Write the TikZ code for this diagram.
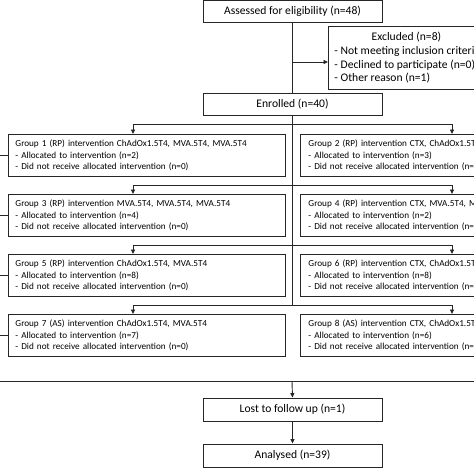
\documentclass[tikz,border=0pt]{standalone}
\usepackage{fontspec}
\setmainfont{Carlito}
\usetikzlibrary{arrows.meta}
\hbadness=10000 \hfuzz=200pt
\begin{document}
\begin{tikzpicture}[x=1pt,y=-1pt,
  line/.style={draw=black!85,line width=0.9pt},
  arr/.style={line,-{Triangle[length=4.5pt,width=4pt]}},
  bigfont/.style={font=\fontsize{11.6}{13.7}\selectfont},
  smallfont/.style={font=\fontsize{9.2}{11.3}\selectfont},
  cbox/.style={draw=black!85,line width=0.9pt,minimum width=179pt,minimum height=22pt,inner sep=0pt,bigfont},
  gbox/.style={draw=black!85,line width=0.9pt,anchor=north west,minimum height=42pt,text width=263pt,inner xsep=7pt,inner ysep=2pt,align=left,smallfont},
  rbox/.style={gbox,inner xsep=8pt,text width=261pt},
]
\useasboundingbox (0,0) rectangle (474,474);
\clip (0,0) rectangle (474,474);

% central boxes
\node[cbox] (assess) at (292.5,11.25) {Assessed for eligibility (n=48)};
\node[cbox] (enrol) at (292.5,104.5) {Enrolled (n=40)};
\node[cbox,minimum height=23pt] (lost) at (292.5,409.5) {Lost to follow up (n=1)};
\node[cbox,minimum height=23pt] (anal) at (292.5,455.5) {Analysed (n=39)};

% excluded
\node[draw=black!85,line width=0.9pt,anchor=north west,minimum height=63pt,inner xsep=6pt,inner ysep=2pt,align=left,bigfont] (exc) at (328,26)
  {\makebox[144pt]{Excluded (n=8)}\\- Not meeting inclusion criteria (n=7)\\- Declined to participate (n=0)\\- Other reason (n=1)};

% group boxes
\node[gbox] (g1) at (8,134) {\mbox{Group 1 (RP) intervention ChAdOx1.5T4, MVA.5T4, MVA.5T4}\\- Allocated to intervention (n=2)\\- Did not receive allocated intervention (n=0)};
\node[rbox] (g2) at (300,134) {\mbox{Group 2 (RP) intervention CTX, ChAdOx1.5T4, MVA.5T4}\\- Allocated to intervention (n=3)\\- Did not receive allocated intervention (n=0)};
\node[gbox] (g3) at (8,194) {\mbox{Group 3 (RP) intervention MVA.5T4, MVA.5T4, MVA.5T4}\\- Allocated to intervention (n=4)\\- Did not receive allocated intervention (n=0)};
\node[rbox] (g4) at (300,194) {\mbox{Group 4 (RP) intervention CTX, MVA.5T4, MVA.5T4}\\- Allocated to intervention (n=2)\\- Did not receive allocated intervention (n=0)};
\node[gbox] (g5) at (8,254) {\mbox{Group 5 (RP) intervention ChAdOx1.5T4, MVA.5T4}\\- Allocated to intervention (n=8)\\- Did not receive allocated intervention (n=0)};
\node[rbox] (g6) at (300,254) {\mbox{Group 6 (RP) intervention CTX, ChAdOx1.5T4, MVA.5T4}\\- Allocated to intervention (n=8)\\- Did not receive allocated intervention (n=0)};
\node[gbox] (g7) at (8,314) {\mbox{Group 7 (AS) intervention ChAdOx1.5T4, MVA.5T4}\\- Allocated to intervention (n=7)\\- Did not receive allocated intervention (n=0)};
\node[rbox] (g8) at (300,314) {\mbox{Group 8 (AS) intervention CTX, ChAdOx1.5T4, MVA.5T4}\\- Allocated to intervention (n=6)\\- Did not receive allocated intervention (n=0)};

% trunk and exclusion
\coordinate (ej) at (292,62);
\draw[line] (assess.south -| ej) -- (enrol.north -| ej);
\draw[arr] (ej) -- (ej -| exc.west);

% branches
\foreach \yb/\l/\r in {124/g1/g2,185/g3/g4,245/g5/g6,305/g7/g8}{
  \coordinate (bl) at (133,\yb);
  \coordinate (br) at (452,\yb);
  \draw[line] (bl) -- (br);
  \draw[arr] (bl) -- (bl |- \l.north);
  \draw[arr] (br) -- (br |- \r.north);
}
\coordinate (tb) at (292,305);
\draw[line] (enrol.south -| ej) -- (tb);

% collectors
\coordinate (lc) at (-5,381);
\coordinate (rc) at (600,381);
\coordinate (mc) at (292,381);
\foreach \g in {g1,g3,g5,g7}{\draw[line] (\g.west) -- (\g.west -| lc);}
\foreach \g in {g2,g4,g6,g8}{\draw[line] (\g.east) -- (\g.east -| rc);}
\draw[line] (lc |- g1.west) -- (lc) -- (rc) -- (rc |- g2.east);
\draw[arr] (mc) -- (lost.north);
\draw[arr] (lost) -- (anal);
\end{tikzpicture}
\end{document}
